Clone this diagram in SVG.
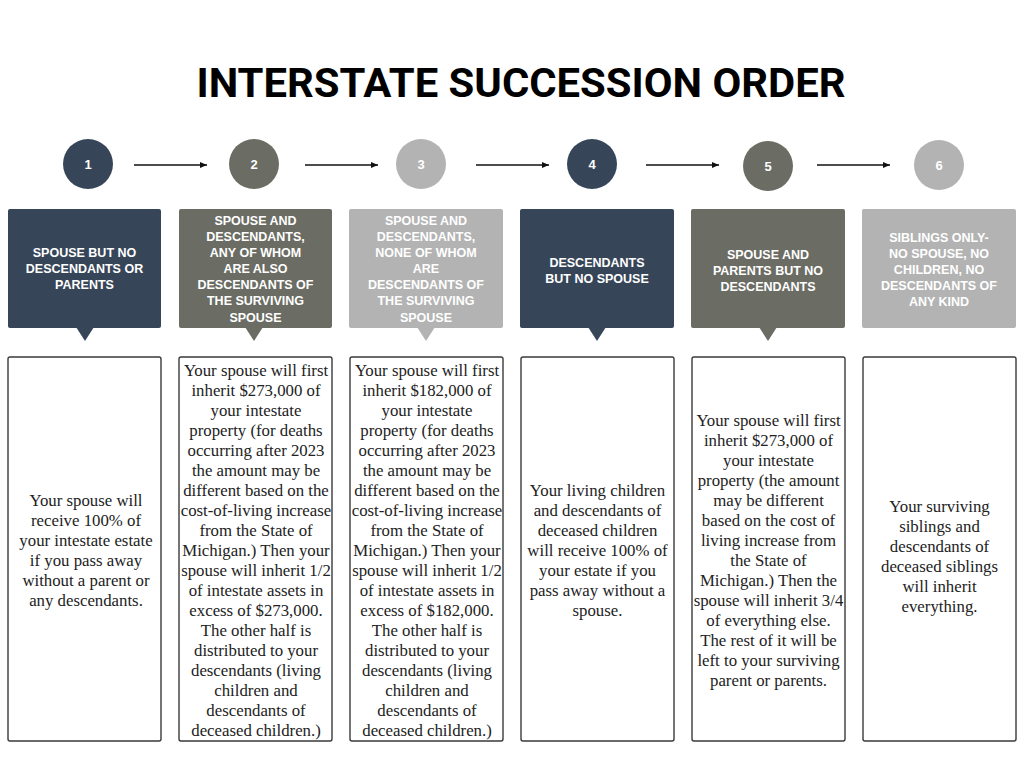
<svg xmlns="http://www.w3.org/2000/svg" width="1024" height="768" viewBox="0 0 1024 768">
<defs>
<marker id="ah" viewBox="0 0 8 8" refX="7" refY="4" markerWidth="8" markerHeight="8" markerUnits="userSpaceOnUse" orient="auto">
<path d="M0,1 L7,4 L0,7 Z" fill="#111"/>
</marker>
<style>
.title{font-family:Roboto,"Liberation Sans",Arial,sans-serif;font-weight:700;font-size:41px;fill:#000;text-anchor:middle}
.num{font-family:"Liberation Sans",Arial,sans-serif;font-weight:700;font-size:13px;fill:#fff;text-anchor:middle}
.hd{font-family:"Liberation Sans",Arial,sans-serif;font-weight:700;font-size:12.5px;fill:#fff;text-anchor:middle}
.body{font-family:"Liberation Serif","Times New Roman",serif;font-size:16.8px;fill:#222;text-anchor:middle}
.navy{fill:#374559}
.olive{fill:#6b6c63}
.light{fill:#b3b3b3}
.card{fill:#fff;stroke:#3a3a3a;stroke-width:1.4}
.conn{stroke:#111;stroke-width:1.3;fill:none}
</style>
</defs>
<rect width="1024" height="768" fill="#fff"/>
<text class="title" x="521" y="97" textLength="649" lengthAdjust="spacingAndGlyphs">INTERSTATE SUCCESSION ORDER</text>

<g id="connectors">
<line class="conn" x1="134" y1="165" x2="207" y2="165" marker-end="url(#ah)"/>
<line class="conn" x1="305" y1="165" x2="378" y2="165" marker-end="url(#ah)"/>
<line class="conn" x1="476" y1="165" x2="549" y2="165" marker-end="url(#ah)"/>
<line class="conn" x1="646" y1="165" x2="719" y2="165" marker-end="url(#ah)"/>
<line class="conn" x1="817" y1="165" x2="890" y2="165" marker-end="url(#ah)"/>
</g>

<g id="step1">
<circle class="navy" cx="88" cy="164" r="25"/>
<text class="num" x="88" y="169">1</text>
<rect class="navy" x="8" y="209" width="153" height="119" rx="2"/>
<path class="navy" d="M76,327 L94,327 L85,341 Z"/>
<text class="hd"><tspan x="84.5" y="257">SPOUSE BUT NO</tspan><tspan x="84.5" y="273">DESCENDANTS OR</tspan><tspan x="84.5" y="289">PARENTS</tspan></text>
<rect class="card" x="8" y="357" width="153" height="384" rx="2"/>
<text class="body"><tspan x="86" y="506">Your spouse will</tspan><tspan x="86" y="526">receive 100% of</tspan><tspan x="86" y="546">your intestate estate</tspan><tspan x="86" y="566">if you pass away</tspan><tspan x="86" y="586">without a parent or</tspan><tspan x="86" y="606">any descendants.</tspan></text>
</g>

<g id="step2">
<circle class="olive" cx="254" cy="164" r="25"/>
<text class="num" x="254" y="169">2</text>
<rect class="olive" x="179" y="209" width="153" height="119" rx="2"/>
<path class="olive" d="M245,327 L263,327 L254,341 Z"/>
<text class="hd"><tspan x="255.5" y="224.5">SPOUSE AND</tspan><tspan x="255.5" y="240.5">DESCENDANTS,</tspan><tspan x="255.5" y="256.5">ANY OF WHOM</tspan><tspan x="255.5" y="273">ARE ALSO</tspan><tspan x="255.5" y="289">DESCENDANTS OF</tspan><tspan x="255.5" y="305">THE SURVIVING</tspan><tspan x="255.5" y="321.5">SPOUSE</tspan></text>
<rect class="card" x="179" y="357" width="153" height="384" rx="2"/>
<text class="body"><tspan x="256" y="376">Your spouse will first</tspan><tspan x="256" y="396">inherit $273,000 of</tspan><tspan x="256" y="416">your intestate</tspan><tspan x="256" y="436">property (for deaths</tspan><tspan x="256" y="456">occurring after 2023</tspan><tspan x="256" y="476">the amount may be</tspan><tspan x="256" y="496">different based on the</tspan><tspan x="256" y="516">cost-of-living increase</tspan><tspan x="256" y="536">from the State of</tspan><tspan x="256" y="556">Michigan.) Then your</tspan><tspan x="256" y="576">spouse will inherit 1/2</tspan><tspan x="256" y="596">of intestate assets in</tspan><tspan x="256" y="616">excess of $273,000.</tspan><tspan x="256" y="636">The other half is</tspan><tspan x="256" y="656">distributed to your</tspan><tspan x="256" y="676">descendants (living</tspan><tspan x="256" y="696">children and</tspan><tspan x="256" y="716">descendants of</tspan><tspan x="256" y="736">deceased children.)</tspan></text>
</g>

<g id="step3">
<circle class="light" cx="421" cy="164" r="25"/>
<text class="num" x="421" y="169">3</text>
<rect class="light" x="349" y="209" width="154" height="119" rx="2"/>
<path class="light" d="M417,327 L435,327 L426,341 Z"/>
<text class="hd"><tspan x="426" y="224.5">SPOUSE AND</tspan><tspan x="426" y="240.5">DESCENDANTS,</tspan><tspan x="426" y="256.5">NONE OF WHOM</tspan><tspan x="426" y="273">ARE</tspan><tspan x="426" y="289">DESCENDANTS OF</tspan><tspan x="426" y="305">THE SURVIVING</tspan><tspan x="426" y="321.5">SPOUSE</tspan></text>
<rect class="card" x="350" y="357" width="153" height="384" rx="2"/>
<text class="body"><tspan x="427" y="376">Your spouse will first</tspan><tspan x="427" y="396">inherit $182,000 of</tspan><tspan x="427" y="416">your intestate</tspan><tspan x="427" y="436">property (for deaths</tspan><tspan x="427" y="456">occurring after 2023</tspan><tspan x="427" y="476">the amount may be</tspan><tspan x="427" y="496">different based on the</tspan><tspan x="427" y="516">cost-of-living increase</tspan><tspan x="427" y="536">from the State of</tspan><tspan x="427" y="556">Michigan.) Then your</tspan><tspan x="427" y="576">spouse will inherit 1/2</tspan><tspan x="427" y="596">of intestate assets in</tspan><tspan x="427" y="616">excess of $182,000.</tspan><tspan x="427" y="636">The other half is</tspan><tspan x="427" y="656">distributed to your</tspan><tspan x="427" y="676">descendants (living</tspan><tspan x="427" y="696">children and</tspan><tspan x="427" y="716">descendants of</tspan><tspan x="427" y="736">deceased children.)</tspan></text>
</g>

<g id="step4">
<circle class="navy" cx="592" cy="164" r="25"/>
<text class="num" x="592" y="169">4</text>
<rect class="navy" x="520" y="209" width="154" height="119" rx="2"/>
<path class="navy" d="M588,327 L606,327 L597,341 Z"/>
<text class="hd"><tspan x="597" y="266.5">DESCENDANTS</tspan><tspan x="597" y="282.5">BUT NO SPOUSE</tspan></text>
<rect class="card" x="521" y="357" width="153" height="384" rx="2"/>
<text class="body"><tspan x="597.5" y="496">Your living children</tspan><tspan x="597.5" y="516">and descendants of</tspan><tspan x="597.5" y="536">deceased children</tspan><tspan x="597.5" y="556">will receive 100% of</tspan><tspan x="597.5" y="576">your estate if you</tspan><tspan x="597.5" y="596">pass away without a</tspan><tspan x="597.5" y="616">spouse.</tspan></text>
</g>

<g id="step5">
<circle class="olive" cx="768" cy="166" r="25"/>
<text class="num" x="768" y="171">5</text>
<rect class="olive" x="691" y="209" width="154" height="119" rx="2"/>
<path class="olive" d="M759,327 L777,327 L768,341 Z"/>
<text class="hd"><tspan x="768" y="258.5">SPOUSE AND</tspan><tspan x="768" y="274.5">PARENTS BUT NO</tspan><tspan x="768" y="290.5">DESCENDANTS</tspan></text>
<rect class="card" x="692" y="357" width="153" height="384" rx="2"/>
<text class="body"><tspan x="768.5" y="426">Your spouse will first</tspan><tspan x="768.5" y="446">inherit $273,000 of</tspan><tspan x="768.5" y="466">your intestate</tspan><tspan x="768.5" y="486">property (the amount</tspan><tspan x="768.5" y="506">may be different</tspan><tspan x="768.5" y="526">based on the cost of</tspan><tspan x="768.5" y="546">living increase from</tspan><tspan x="768.5" y="566">the State of</tspan><tspan x="768.5" y="586">Michigan.) Then the</tspan><tspan x="768.5" y="606">spouse will inherit 3/4</tspan><tspan x="768.5" y="626">of everything else.</tspan><tspan x="768.5" y="646">The rest of it will be</tspan><tspan x="768.5" y="666">left to your surviving</tspan><tspan x="768.5" y="686">parent or parents.</tspan></text>
</g>

<g id="step6">
<circle class="light" cx="939" cy="165" r="25"/>
<text class="num" x="939" y="170">6</text>
<rect class="light" x="862" y="209" width="154" height="119" rx="2"/>
<text class="hd"><tspan x="939" y="241.5">SIBLINGS ONLY-</tspan><tspan x="939" y="257.5">NO SPOUSE, NO</tspan><tspan x="939" y="273.5">CHILDREN, NO</tspan><tspan x="939" y="290">DESCENDANTS OF</tspan><tspan x="939" y="306">ANY KIND</tspan></text>
<rect class="card" x="863" y="357" width="153" height="384" rx="2"/>
<text class="body"><tspan x="939.5" y="512">Your surviving</tspan><tspan x="939.5" y="532">siblings and</tspan><tspan x="939.5" y="552">descendants of</tspan><tspan x="939.5" y="572">deceased siblings</tspan><tspan x="939.5" y="592">will inherit</tspan><tspan x="939.5" y="612">everything.</tspan></text>
</g>
</svg>
